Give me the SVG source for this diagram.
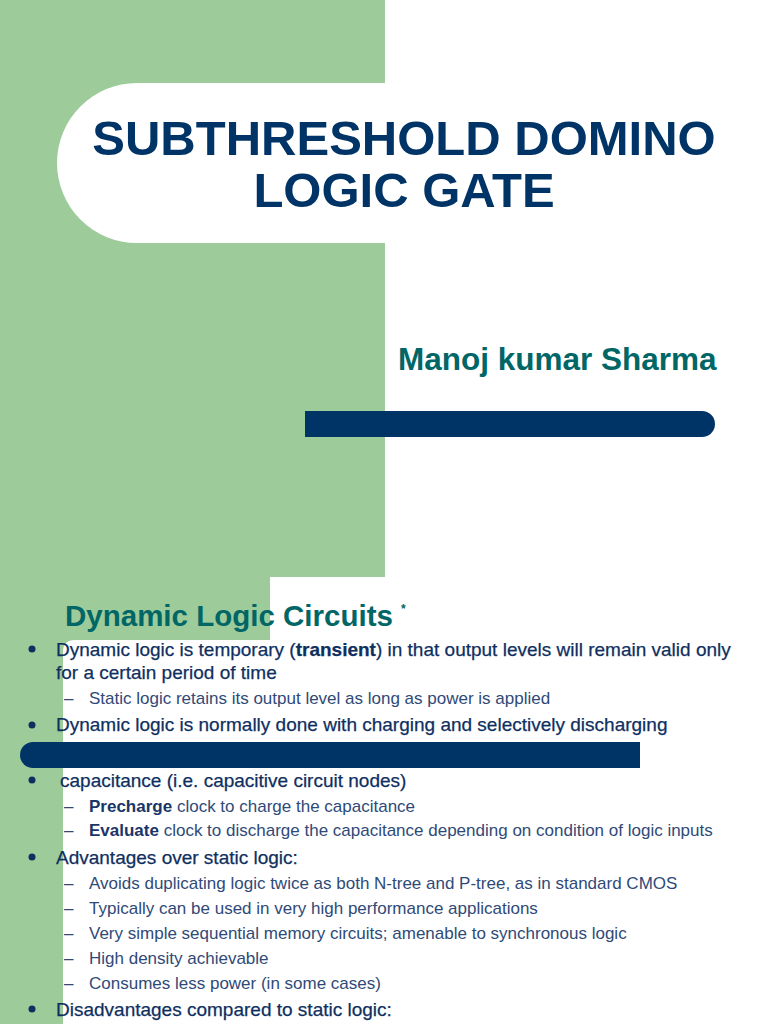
<svg xmlns="http://www.w3.org/2000/svg" width="768" height="1024" viewBox="0 0 768 1024">
<style>
.b{font-family:"Liberation Sans",Arial,sans-serif;font-size:19px;fill:#0f2f5f;stroke:#0f2f5f;stroke-width:0.25}
.s{font-family:"Liberation Sans",Arial,sans-serif;font-size:17px;fill:#2f4a78}
.sb{font-weight:bold;fill:#1a3568}
.t{font-family:"Liberation Sans",Arial,sans-serif;font-weight:bold}
</style>
<rect width="768" height="1024" fill="#fff"/>
<rect x="0" y="0" width="385" height="577" fill="#9dcb9a"/>
<rect x="0" y="577" width="270" height="447" fill="#9dcb9a"/>
<path d="M137 83 H385 V243 H137 A80 80 0 0 1 137 83 Z" fill="#fff"/>
<rect x="270" y="577" width="498" height="447" fill="#fff"/>
<path d="M63 1024 V652 Q63 640 75 640 H280 V1024 Z" fill="#fff"/>
<rect x="305" y="411" width="410" height="26" rx="13" fill="#003366"/>
<rect x="305" y="411" width="30" height="26" fill="#003366"/>
<path d="M33 742 H640 V768 H33 A13 13 0 0 1 33 742 Z" fill="#003366"/>
<text class="t" x="404" y="155" text-anchor="middle" font-size="49" fill="#003366">SUBTHRESHOLD DOMINO</text>
<text class="t" x="404" y="207" text-anchor="middle" font-size="49" fill="#003366">LOGIC GATE</text>
<text class="t" x="398" y="370" font-size="31.5" fill="#006666">Manoj kumar Sharma</text>
<text class="t" x="65" y="626" font-size="29.5" fill="#006666">Dynamic Logic Circuits <tspan font-size="12" dy="-13">*</tspan></text>
<g fill="#0f2f5f">
<circle cx="32" cy="649" r="3.5"/><circle cx="32" cy="725" r="3.5"/><circle cx="32" cy="780" r="3.5"/><circle cx="32" cy="857" r="3.5"/><circle cx="32" cy="1009" r="3.5"/>
</g>
<text class="b" x="56" y="656">Dynamic logic is temporary (<tspan font-weight="bold">transient</tspan>) in that output levels will remain valid only</text>
<text class="b" x="56" y="679">for a certain period of time</text>
<text class="s" x="64" y="704">–</text><text class="s" x="89" y="704">Static logic retains its output level as long as power is applied</text>
<text class="b" x="56" y="731">Dynamic logic is normally done with charging and selectively discharging</text>
<text class="b" x="60" y="787">capacitance (i.e. capacitive circuit nodes)</text>
<text class="s" x="64" y="812">–</text><text class="s" x="89" y="812"><tspan class="sb">Precharge</tspan> clock to charge the capacitance</text>
<text class="s" x="64" y="836">–</text><text class="s" x="89" y="836"><tspan class="sb">Evaluate</tspan> clock to discharge the capacitance depending on condition of logic inputs</text>
<text class="b" x="56" y="864">Advantages over static logic:</text>
<text class="s" x="64" y="889">–</text><text class="s" x="89" y="889">Avoids duplicating logic twice as both N-tree and P-tree, as in standard CMOS</text>
<text class="s" x="64" y="914">–</text><text class="s" x="89" y="914">Typically can be used in very high performance applications</text>
<text class="s" x="64" y="939">–</text><text class="s" x="89" y="939">Very simple sequential memory circuits;  amenable to synchronous logic</text>
<text class="s" x="64" y="964">–</text><text class="s" x="89" y="964">High density achievable</text>
<text class="s" x="64" y="989">–</text><text class="s" x="89" y="989">Consumes less power (in some cases)</text>
<text class="b" x="56" y="1016">Disadvantages compared to static logic:</text>
</svg>
